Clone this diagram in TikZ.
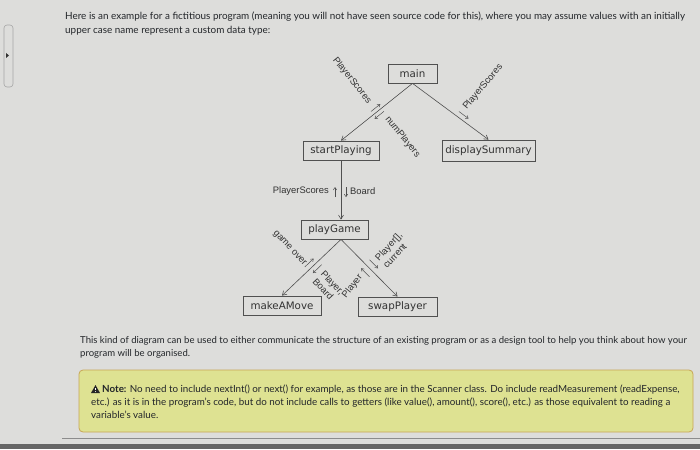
\documentclass[tikz,border=0pt]{standalone}
\usepackage{fontspec}
\setmainfont{Lato}
\newfontfamily\boxfont{DejaVu Sans}
\newfontfamily\lblfont{Liberation Sans}
\usetikzlibrary{arrows.meta,calc}
\definecolor{bg}{RGB}{221,221,219}
\definecolor{ink}{RGB}{50,50,50}
\definecolor{linec}{RGB}{80,80,80}
\definecolor{bodyc}{RGB}{35,38,42}
\definecolor{notefill}{RGB}{222,226,146}
\definecolor{noteedge}{RGB}{200,166,84}
\newcommand{\flowmark}[6]{\draw[flow] ($(#1)!#3!(#2)!#5!#6:(#2)$) -- ($(#1)!#4!(#2)!#5!#6:(#2)$);}
\begin{document}
\begin{tikzpicture}[x=1pt,y=-1pt,
  fn/.style={draw=linec, line width=0.8pt, text=ink, font=\boxfont\fontsize{10.3}{12}\selectfont, inner sep=0pt, minimum height=19pt},
  conn/.style={draw=linec, line width=0.6pt, -{Straight Barb[length=4pt,width=5pt]}},
  flow/.style={draw=linec, line width=0.5pt, -{Straight Barb[length=2.5pt,width=3.5pt]}},
  lbl/.style={text=ink, font=\lblfont\fontsize{9.4}{11}\selectfont, inner sep=0pt},
  body/.style={text=bodyc, font=\fontsize{9.8}{13}\selectfont, inner sep=0pt, anchor=base west},
]
\useasboundingbox (0,0) rectangle (700,449);
\fill[bg] (0,0) rectangle (700,449);

% left UI handle
\draw[black!35, line width=0.6pt, rounded corners=3pt] (4,25) rectangle (13,87);
\fill[black!80] (6,53) -- (9,55.5) -- (6,58) -- cycle;

% intro text
\node[body, font=\fontsize{9.9}{13}\selectfont] (t1) at (65,20) {Here is an example for a fictitious program (meaning you will not have seen source code for this), where you may assume values with an initially};
\node[body, font=\fontsize{9.9}{13}\selectfont] (t2) at (65,34) {upper case name represent a custom data type:};

% diagram nodes
\node[fn, minimum width=49pt] (main) at (412.5,73.5) {main};
\node[fn, minimum width=76pt] (sp) at (341,150.5) {startPlaying};
\node[fn, minimum width=93pt, minimum height=21pt] (ds) at (488.5,150.5) {displaySummary};
\node[fn, minimum width=67pt] (pg) at (334.5,229.5) {playGame};
\node[fn, minimum width=78pt] (mam) at (282,305.5) {makeAMove};
\node[fn, minimum width=79pt] (swp) at (397.5,306.5) {swapPlayer};

\coordinate (pgtop) at (sp.south |- pg.north);
\coordinate (pgbot) at (sp.south |- pg.south);

% connectors
\draw[conn] (main.south) -- (sp.north);
\draw[conn] (main.south) -- (ds.north);
\draw[conn] (sp.south) -- (pgtop);
\draw[conn] (pgbot) -- (mam.north);
\draw[conn] (pgbot) -- (swp.north);

% data-flow marks
\flowmark{main.south}{sp.north}{0.545}{0.415}{4pt}{-90}
\flowmark{main.south}{sp.north}{0.435}{0.565}{4pt}{90}
\flowmark{main.south}{ds.north}{0.572}{0.698}{5pt}{90}
\flowmark{sp.south}{pgtop}{0.62}{0.45}{6pt}{-90}
\flowmark{sp.south}{pgtop}{0.45}{0.62}{5pt}{90}
\flowmark{pgbot}{mam.north}{0.555}{0.405}{5pt}{-90}
\flowmark{pgbot}{mam.north}{0.385}{0.535}{5pt}{90}
\flowmark{pgbot}{swp.north}{0.43}{0.58}{6pt}{90}
\flowmark{pgbot}{swp.north}{0.58}{0.43}{6pt}{-90}

% data labels
\node[lbl, rotate=-51] (l1) at (352,80.5) {PlayerScores};
\node[lbl, rotate=-51] (l2) at (402.5,137) {numPlayers};
\node[lbl, rotate=50] (l3) at (483,87) {PlayerScores};
\node[lbl, anchor=east] (l4) at (329,191.5) {PlayerScores};
\node[lbl, anchor=west] (l5) at (350,191.5) {Board};
\node[lbl, rotate=-47] (l6) at (289.5,248.5) {game over};
\node[lbl, rotate=-47, align=left] (l7) at (328.5,286.5) {Player,\\Board};
\node[lbl, rotate=47, align=left] (l8) at (392.5,250) {Player[],\\current};
\node[lbl, rotate=52] (l9) at (352.5,286.5) {Player};

% lower text
\node[body, font=\fontsize{9.55}{13}\selectfont] (t3) at (80,343) {This kind of diagram can be used to either communicate the structure of an existing program or as a design tool to help you think about how your};
\node[body, font=\fontsize{9.55}{13}\selectfont] (t4) at (80,356) {program will be organised.};

% note box
\draw[draw=noteedge, fill=notefill, line width=0.8pt, rounded corners=4pt] (79,370) rectangle (693,432);
\fill[black!85] (91,393) -- (100,393) -- (95.5,385) -- cycle;
\draw[white, line width=0.8pt] (95.5,387.8) -- (95.5,390.3);
\fill[white] (95.5,391.6) circle (0.45);
\node[body] (n1) at (102,392) {\textbf{Note:} No need to include nextInt() or next() for example, as those are in the Scanner class. Do include readMeasurement (readExpense,};
\node[body] (n2) at (91,405) {etc.) as it is in the program’s code, but do not include calls to getters (like value(), amount(), score(), etc.) as those equivalent to reading a};
\node[body] (n3) at (91,418) {variable’s value.};

% bottom edge
\draw[black!45, line width=1pt] (62,438.5) -- (700,438.5);
\fill[black!60] (0,444) rectangle (700,449);
\end{tikzpicture}
\end{document}
